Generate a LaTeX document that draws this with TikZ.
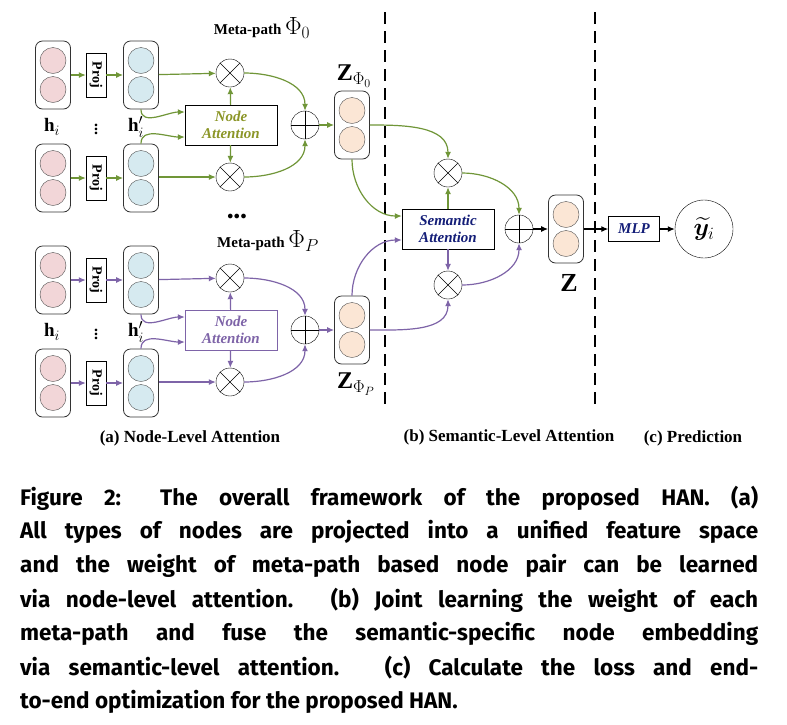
\documentclass[tikz,border=0pt]{standalone}
\usepackage{amsmath,bm}
\usepackage{fontspec}
\setmainfont{Liberation Serif}
\newfontfamily\capfont{Fira Sans}
\usetikzlibrary{arrows.meta}
\definecolor{gr}{RGB}{112,150,56}
\definecolor{pu}{RGB}{126,100,168}
\definecolor{ol}{RGB}{140,150,40}
\definecolor{db}{RGB}{20,30,120}
\definecolor{pk}{RGB}{242,214,216}
\definecolor{bl}{RGB}{214,234,240}
\definecolor{orn}{RGB}{251,230,213}
\tikzset{
 stk/.style={draw=black!80,rounded corners=7pt,minimum width=35pt,minimum height=68pt,line width=0.8pt},
 cir/.style={circle,draw=black!70,minimum size=26pt,inner sep=0pt,fill=#1},
 op/.style={circle,draw,minimum size=28pt,inner sep=0pt},
 proj/.style={draw,minimum width=20pt,minimum height=44pt,inner sep=0pt},
 att/.style={draw,minimum width=92pt,minimum height=40pt,align=center,font=\itshape\bfseries\fontsize{15}{17}\selectfont},
 ar/.style={#1,line width=1.2pt,-{Latex[length=7pt,width=6pt]}},
 lab/.style={font=\bfseries\fontsize{17}{19}\selectfont}
}
\newcommand{\stack}[4]{%
 \node[stk] (#1) at (#2,#3) {};
 \node[cir=#4] at (#2,#3+14.5) {};
 \node[cir=#4] at (#2,#3-14.5) {};}
\newcommand{\otim}[3]{\node[op] (#1) at (#2,#3) {};
 \draw ([shift={(45:14pt)}]#1.center) -- ([shift={(225:14pt)}]#1.center)
       ([shift={(135:14pt)}]#1.center) -- ([shift={(-45:14pt)}]#1.center);}
\newcommand{\oplu}[3]{\node[op] (#1) at (#2,#3) {};
 \draw (#1.north) -- (#1.south) (#1.west) -- (#1.east);}
\begin{document}
\begin{tikzpicture}[x=1pt,y=-1pt]
\useasboundingbox (0,0) rectangle (787,724);
\fill[white] (0,0) rectangle (787,724);
% dashed separators
\draw[line width=1.6pt,dash pattern=on 12pt off 7pt] (385,12) -- (385,410);
\draw[line width=1.6pt,dash pattern=on 12pt off 7pt] (595,12) -- (595,410);
% groups
\foreach \g/\dy/\c/\tc/\dc in {A/0/gr/ol/black,B/205/pu/pu/pu}{
 \stack{in1\g}{53}{75+\dy}{pk}
 \stack{in2\g}{53}{178+\dy}{pk}
 \node[proj] (pr1\g) at (96,75+\dy) {\rotatebox{-90}{\bfseries\fontsize{14}{14}\selectfont Proj}};
 \node[proj] (pr2\g) at (96,178+\dy) {\rotatebox{-90}{\bfseries\fontsize{14}{14}\selectfont Proj}};
 \stack{h1\g}{141}{75+\dy}{bl}
 \stack{h2\g}{141}{178+\dy}{bl}
 \node[font=\fontsize{19}{21}\selectfont] at (52,127+\dy) {$\mathbf{h}_i$};
 \node[font=\bfseries\fontsize{16}{16}\selectfont] at (96,126+\dy) {$\vdots$};
 \node[font=\fontsize{19}{21}\selectfont] at (136,127+\dy) {$\mathbf{h}'_i$};
 \otim{x1\g}{230}{73+\dy}
 \otim{x2\g}{230}{177+\dy}
 \node[att,draw=\dc,text=\tc] (na\g) at (231,125+\dy) {Node\\Attention};
 \oplu{p\g}{305}{125+\dy}
 \stack{z\g}{352}{125+\dy}{orn}
 \draw[ar=\c] (in1\g) -- (pr1\g);
 \draw[ar=\c] (pr1\g) -- (h1\g);
 \draw[ar=\c] (in2\g) -- (pr2\g);
 \draw[ar=\c] (pr2\g) -- (h2\g);
 \draw[ar=\c] (h1\g) -- (x1\g);
 \draw[ar=\c] (h2\g.east|-x2\g) -- (x2\g);
 \draw[ar=\c] (h1\g.south) to[out=-90,in=180] (na\g.west|-0,112+\dy);
 \draw[ar=\c] (h2\g.north) to[out=90,in=180] (na\g.west|-0,137+\dy);
 \draw[ar=\c] (na\g) -- (x1\g);
 \draw[ar=\c] (na\g) -- (x2\g);
 \draw[ar=\c] (x1\g) to[out=0,in=90] (p\g);
 \draw[ar=\c] (x2\g) to[out=0,in=-90] (p\g);
 \draw[ar=\c] (p\g) -- (z\g);
}
\node[font=\bfseries\fontsize{15}{17}\selectfont] (mp0) at (262,28) {Meta-path \fontsize{24}{24}\selectfont$\Phi_0$};
\node[font=\bfseries\fontsize{15}{17}\selectfont] (mpP) at (268,241) {Meta-path \fontsize{24}{24}\selectfont$\Phi_P$};
\node[font=\fontsize{12}{12}\selectfont] (dots) at (237,217) {$\bullet\!\bullet\!\bullet$};
\node[font=\fontsize{24}{24}\selectfont] (lz0) at (354,76) {$\mathbf{Z}_{\Phi_0}$};
\node[font=\fontsize{24}{24}\selectfont] (lzP) at (356,384) {$\mathbf{Z}_{\Phi_P}$};
% semantic level
\node[att,draw=black,text=db] (sa) at (448,229) {Semantic\\Attention};
\otim{sx1}{448}{173}
\otim{sx2}{448}{285}
\oplu{sp}{519}{229}
\stack{Z}{566}{229}{orn}
\node[font=\fontsize{26}{26}\selectfont] (lZ) at (569,283) {$\mathbf{Z}$};
\node[draw,minimum width=51pt,minimum height=25pt,font=\itshape\bfseries\fontsize{15}{17}\selectfont,text=db] (mlp) at (634,229) {MLP};
\node[circle,draw,minimum size=58pt,inner sep=0pt,font=\fontsize{24}{24}\selectfont] (y) at (704,229) {$\widetilde{\bm{y}}_i$};
\draw[ar=gr] (zA.south) to[out=-90,in=180] (sa.west|-0,216);
\draw[ar=pu] (zB.north) to[out=90,in=180] (sa.west|-0,240);
\draw[ar=gr] (zA.east) to[out=0,in=90] (sx1.north);
\draw[ar=pu] (zB.east) to[out=0,in=-90] (sx2.south);
\draw[ar=gr] (sa) -- (sx1);
\draw[ar=pu] (sa) -- (sx2);
\draw[ar=gr] (sx1) to[out=0,in=90] (sp);
\draw[ar=pu] (sx2) to[out=0,in=-90] (sp);
\draw[ar=black] (sp) -- (Z);
\draw[ar=black] (Z) -- (mlp);
\draw[ar=black] (mlp) -- (y);
% subcaptions
\node[lab] (ca) at (190,438) {(a) Node-Level Attention};
\node[lab] (cb) at (509,437) {(b) Semantic-Level Attention};
\node[lab] (cc) at (693,438) {(c) Prediction};
% caption
\foreach \i/\t in {0/{Figure 2: The overall framework of the proposed HAN. (a)},
1/{All types of nodes are projected into a unified feature space},
2/{and the weight of meta-path based node pair can be learned},
3/{via node-level attention. (b) Joint learning the weight of each},
4/{meta-path and fuse the semantic-specific node embedding},
5/{via semantic-level attention. (c) Calculate the loss and end-}}{
 \node[anchor=west,inner sep=0pt,font=\capfont\bfseries\fontsize{22.5}{24}\selectfont] at (20,498+34*\i) {\makebox[738pt][s]{\t}};
}
\node[anchor=west,inner sep=0pt,font=\capfont\bfseries\fontsize{22.5}{24}\selectfont] (cl) at (20,702) {to-end optimization for the proposed HAN.};
\end{tikzpicture}
\end{document}
